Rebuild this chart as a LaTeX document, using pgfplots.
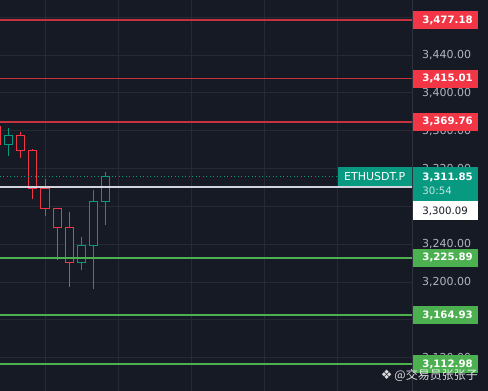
\documentclass[border=0pt]{standalone}
\usepackage{fontspec}
\setmainfont{DejaVu Sans}
\newfontfamily\cjk{Noto Sans CJK SC}
\usepackage{pgfplots}
\pgfplotsset{compat=1.18}
\definecolor{bg}{HTML}{161A25}
\definecolor{gridc}{HTML}{262A35}
\definecolor{sepc}{HTML}{2E323D}
\definecolor{tickc}{HTML}{B2B5BE}
\definecolor{cred}{HTML}{F23645}
\definecolor{lred}{HTML}{C8323E}
\definecolor{cgreen}{HTML}{089981}
\definecolor{lgreen}{HTML}{4CAF50}
\definecolor{lwhite}{HTML}{D1D4DC}
\definecolor{dtext}{HTML}{131722}
% candle: position, low, body low, body high, high, colour
\newcommand\candle[6]{%
  \pgfmathsetmacro\xl{#1-0.33}\pgfmathsetmacro\xr{#1+0.33}%
  \addplot[draw=#6, line width=1pt] coordinates {(#1,#2) (#1,#5)};
  \addplot[draw=#6, fill=bg, line width=1pt, line join=miter] coordinates {(\xl,#3) (\xr,#3) (\xr,#4) (\xl,#4) (\xl,#3)} -- cycle;
}
\begin{document}
\begin{tikzpicture}
\fill[bg] (0,0) rectangle (488pt,391pt);
\useasboundingbox (0,0) rectangle (488pt,391pt);
\begin{axis}[
  at={(0,0)}, anchor=south west, scale only axis,
  width=412pt, height=391pt,
  xmin=0.301, xmax=34.16, ymin=3084.8, ymax=3498.3,
  axis line style={draw=none}, tick style={draw=none},
  xtick={4,10,16,22,28}, xticklabels={},
  ytick={3120,3200,3240,3320,3360,3400,3440},
  extra y ticks={3160,3280,3480}, extra y tick labels={},
  extra y tick style={grid=major},
  scaled y ticks=false,
  grid=major, major grid style={draw=gridc, line width=0.9pt},
  yticklabel pos=right,
  yticklabel style={anchor=west, inner sep=0pt, xshift=10pt, text=tickc,
    font=\fontsize{11}{13}\selectfont,
    /pgf/number format/fixed, /pgf/number format/fixed zerofill,
    /pgf/number format/precision=2, /pgf/number format/1000 sep={,},
    /pgf/number format/assume math mode=true},
]
% candles (open/close as body, high/low as wick)
\candle{0}{3342}{3345.0}{3365.0}{3368}{cred}
\candle{1}{3333.7}{3345.7}{3355.2}{3362.6}{cgreen}
\candle{2}{3331.6}{3339.4}{3355.2}{3358.7}{cred}
\candle{3}{3288.2}{3299.2}{3339.4}{3340.8}{cred}
\candle{4}{3270.2}{3278.0}{3299.2}{3309.0}{cred}
\candle{5}{3223.7}{3257.9}{3278.0}{3278.0}{cred}
\candle{6}{3195.1}{3220.9}{3257.9}{3274.1}{cred}
\candle{7}{3213.1}{3220.9}{3238.9}{3247.7}{cgreen}
\candle{8}{3193.0}{3238.9}{3285.5}{3297.4}{cgreen}
\candle{9}{3260.7}{3285.5}{3311.85}{3316.4}{cgreen}
% current price dotted line
\addplot[cgreen, line width=0.8pt, dash pattern=on 1pt off 2.5pt] coordinates {(0,3311.85) (28.08,3311.85)};
% level lines
\addplot[lred, line width=2pt] coordinates {(0,3477.18) (35,3477.18)};
\addplot[lred, line width=1pt] coordinates {(0,3415.01) (35,3415.01)};
\addplot[lred, line width=2pt] coordinates {(0,3369.76) (35,3369.76)};
\addplot[lwhite, line width=2pt] coordinates {(0,3300.09) (35,3300.09)};
\addplot[lgreen, line width=2pt] coordinates {(0,3225.89) (35,3225.89)};
\addplot[lgreen, line width=2pt] coordinates {(0,3164.93) (35,3164.93)};
\addplot[lgreen, line width=2pt] coordinates {(0,3112.98) (35,3112.98)};
\coordinate (L1) at (axis cs:34.16,3477.18);
\coordinate (L2) at (axis cs:34.16,3415.01);
\coordinate (L3) at (axis cs:34.16,3369.76);
\coordinate (P) at (axis cs:34.16,3311.85);
\coordinate (L5) at (axis cs:34.16,3225.89);
\coordinate (L6) at (axis cs:34.16,3164.93);
\coordinate (L7) at (axis cs:34.16,3112.98);
\end{axis}
\draw[sepc, line width=0.9pt] (412pt,0) -- (412pt,391pt);
\tikzset{lab/.style={anchor=west, minimum height=18pt, inner xsep=0pt, inner ysep=0pt,
  text width=64.8pt, align=left, text=white, font=\fontsize{10.2}{12}\selectfont\bfseries}}
\node[lab, fill=cred] at ([xshift=0.7pt]L1) {\hspace*{9.5pt}3,477.18};
\node[lab, fill=cred] at ([xshift=0.7pt]L2) {\hspace*{9.5pt}3,415.01};
\node[lab, fill=cred] at ([xshift=0.7pt]L3) {\hspace*{9.5pt}3,369.76};
\node[lab, fill=lgreen] at ([xshift=0.7pt]L5) {\hspace*{9.5pt}3,225.89};
\node[lab, fill=lgreen] at ([xshift=0.7pt]L6) {\hspace*{9.5pt}3,164.93};
\node[lab, fill=lgreen] at ([xshift=0.7pt]L7) {\hspace*{9.5pt}3,112.98};
% current price
\node[anchor=east, fill=cgreen, minimum height=19pt, minimum width=73.7pt, inner sep=0pt,
  text=white, font=\fontsize{11}{13}\selectfont] at ([xshift=-0.3pt]P) {ETHUSDT.P};
\node[anchor=north west, fill=cgreen, minimum height=34pt, text width=64.8pt, inner xsep=0pt,
  inner ysep=2.5pt, align=left, text=white, font=\fontsize{10.2}{14}\selectfont]
  (T) at ([xshift=0.7pt,yshift=9.5pt]P)
  {\hspace*{9.5pt}\textbf{3,311.85}\\\hspace*{9.5pt}{\color{white!75!cgreen}30:54}};
\node[anchor=north west, fill=white, minimum height=19pt, text width=64.8pt, inner xsep=0pt,
  inner ysep=0pt, align=left, text=dtext, font=\fontsize{10.2}{12}\selectfont]
  at (T.south west) {\hspace*{9.5pt}3,300.09};
% watermark
\node[anchor=south east, inner sep=0pt, text=white, opacity=0.85, font=\fontsize{12}{14}\selectfont]
  at (478pt,9pt) {{\fontsize{13}{14}\selectfont ❖}\,{\cjk @交易员张张子}};
\end{tikzpicture}
\end{document}
